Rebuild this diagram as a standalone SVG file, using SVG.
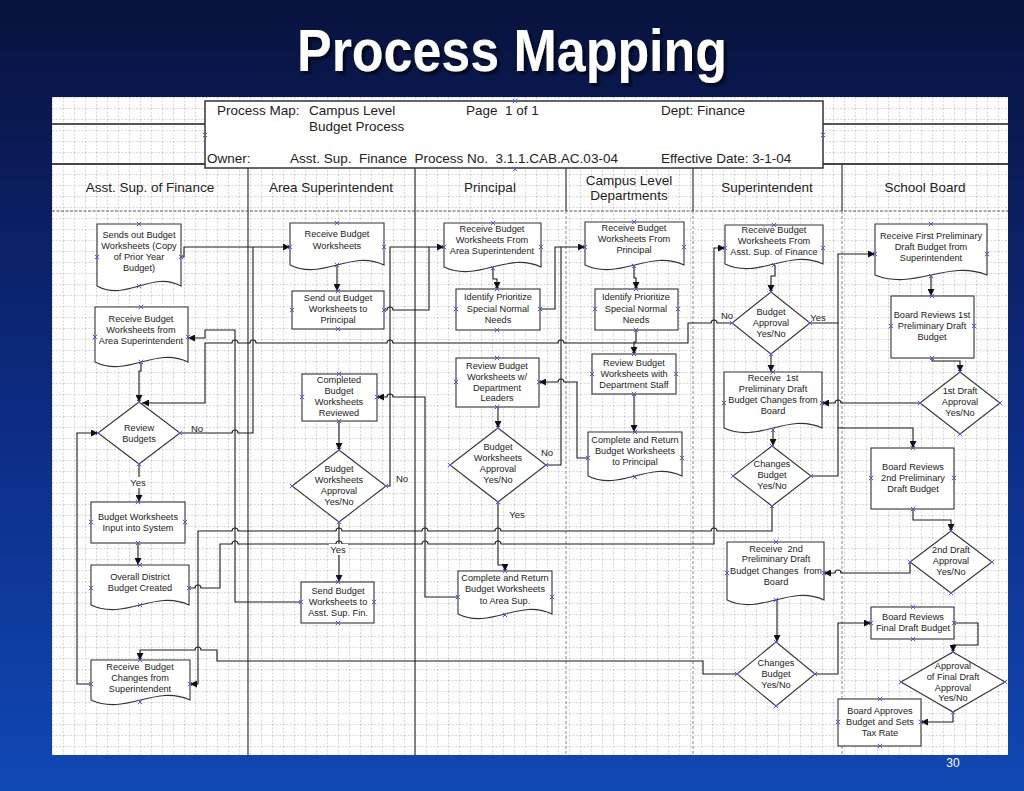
<svg xmlns="http://www.w3.org/2000/svg" xmlns:xlink="http://www.w3.org/1999/xlink" width="1024" height="791" viewBox="0 0 1024 791">
<defs>
<linearGradient id="bg" x1="0" y1="0" x2="0" y2="1">
<stop offset="0" stop-color="#08123c"/>
<stop offset="0.5" stop-color="#0c2a80"/>
<stop offset="1" stop-color="#1048b4"/>
</linearGradient>
<filter id="sh" x="-10%" y="-30%" width="120%" height="160%">
<feGaussianBlur in="SourceAlpha" stdDeviation="1.2"/>
<feOffset dx="3" dy="3" result="o"/>
<feComponentTransfer><feFuncA type="linear" slope="0.6"/></feComponentTransfer>
<feMerge><feMergeNode/><feMergeNode in="SourceGraphic"/></feMerge>
</filter>
<pattern id="grid" width="11" height="11" patternUnits="userSpaceOnUse" x="52" y="97">
<path d="M0,0.5 H11 M0.5,0 V11" fill="none" stroke="#c9c9c9" stroke-width="0.7" stroke-dasharray="2,1.5"/>
</pattern>
<marker id="ar" viewBox="0 0 8 8" refX="8" refY="4" markerWidth="7" markerHeight="7" markerUnits="userSpaceOnUse" orient="auto">
<path d="M0,0 L8,4 L0,8 Z" fill="#111"/>
</marker>
<g id="xm"><path d="M-2.2,-2.2 L2.2,2.2 M-2.2,2.2 L2.2,-2.2" stroke="#5656d6" stroke-width="1" fill="none"/></g>
</defs>
<style>
.nd{fill:#ffffff;stroke:#333;stroke-width:1.1}
.t{font-family:"Liberation Sans",Arial,sans-serif;font-size:9.2px;fill:#222;text-anchor:middle}
.h{font-family:"Liberation Sans",Arial,sans-serif;font-size:13.5px;fill:#222}
.hc{font-family:"Liberation Sans",Arial,sans-serif;font-size:13.5px;fill:#222;text-anchor:middle}
.c{fill:none;stroke:#1a1a1a;stroke-width:1.1}
.ca{fill:none;stroke:#1a1a1a;stroke-width:1.1;marker-end:url(#ar)}
.lb{font-family:"Liberation Sans",Arial,sans-serif;font-size:9.5px;fill:#222;text-anchor:middle}
.ln{stroke:#444;stroke-width:1.3}
.lnd{stroke:#888;stroke-width:1;stroke-dasharray:3,2}
</style>
<rect width="1024" height="791" fill="url(#bg)"/>
<text x="512" y="71" font-family="Liberation Sans,Arial,sans-serif" font-weight="bold" font-size="59" fill="#ffffff" text-anchor="middle" textLength="430" lengthAdjust="spacingAndGlyphs" filter="url(#sh)">Process Mapping</text>
<rect x="52" y="97" width="956" height="658" fill="#ffffff"/>
<rect x="52" y="97" width="956" height="658" fill="url(#grid)"/>
<g id="frame">
<line x1="52" y1="124" x2="205" y2="124" stroke="#555" stroke-width="2"/>
<line x1="823" y1="124" x2="1008" y2="124" stroke="#555" stroke-width="2"/>
<line x1="52" y1="164" x2="205" y2="164" stroke="#444" stroke-width="2"/>
<line x1="823" y1="164" x2="1008" y2="164" stroke="#444" stroke-width="2"/>
<line x1="52" y1="211" x2="1008" y2="211" stroke="#555" stroke-width="1.2" stroke-dasharray="3,1.5"/>
<line class="ln" x1="248" y1="164" x2="248" y2="755"/>
<line class="ln" x1="415" y1="168" x2="415" y2="755"/>
<line class="ln" x1="566" y1="168" x2="566" y2="211"/>
<line class="ln" x1="693" y1="168" x2="693" y2="211"/>
<line class="ln" x1="842" y1="164" x2="842" y2="211"/>
<line class="lnd" x1="566" y1="211" x2="566" y2="755"/>
<line class="lnd" x1="693" y1="211" x2="693" y2="755"/>
<line class="lnd" x1="842" y1="211" x2="842" y2="755"/>
</g>
<g id="header">
<rect x="205" y="101" width="618" height="67" fill="#fff" stroke="#333" stroke-width="1.5"/>
<text class="h" x="217" y="115">Process Map:</text>
<text class="h" x="309" y="115">Campus Level</text>
<text class="h" x="309" y="131">Budget Process</text>
<text class="h" x="466" y="115" xml:space="preserve">Page  1 of 1</text>
<text class="h" x="661" y="115">Dept: Finance</text>
<text class="h" x="207" y="163">Owner:</text>
<text class="h" x="290" y="163" xml:space="preserve">Asst. Sup.  Finance  Process No.  3.1.1.CAB.AC.03-04</text>
<text class="h" x="661" y="163">Effective Date: 3-1-04</text>
<use href="#xm" x="205" y="135"/><use href="#xm" x="823" y="135"/><use href="#xm" x="515" y="101"/><use href="#xm" x="515" y="169"/>
</g>
<g id="lanes">
<text class="hc" x="150" y="192">Asst. Sup. of Finance</text>
<text class="hc" x="331" y="192">Area Superintendent</text>
<text class="hc" x="490" y="192">Principal</text>
<text class="hc" x="629" y="185">Campus Level</text>
<text class="hc" x="629" y="200">Departments</text>
<text class="hc" x="767" y="192">Superintendent</text>
<text class="hc" x="925" y="192">School Board</text>
</g>
<g id="connectors">
<path class="ca" d="M181,257 H184 V247 H290"/>
<path class="c" d="M180,433 H232 a3,3 0 0 1 6,0 H253 V247"/>
<path class="ca" d="M301,602 H235 V330 H205 V338 H188"/>
<path class="ca" d="M732,323 H717 a3,3 0 0 0 -6,0 H688 V343 H564 a3,3 0 0 0 -6,0 H393 a3,3 0 0 0 -6,0 H256 a3,3 0 0 0 -6,0 H238 a3,3 0 0 0 -6,0 H205 V403 H142"/>
<path class="ca" d="M141,362 V371 H139 V402"/>
<path class="ca" d="M139,464 V502"/>
<path class="ca" d="M138,543 V565"/>
<path class="ca" d="M189,588 H195 a3,3 0 0 1 6,0 H220 V544 H232 a3,3 0 0 1 6,0 H336 a3,3 0 0 1 6,0 H422 a3,3 0 0 1 6,0 H495 a3,3 0 0 1 6,0 H714 V248 H725"/>
<path class="ca" d="M772,506 V531 H717 a3,3 0 0 0 -6,0 H501 a3,3 0 0 0 -6,0 H428 a3,3 0 0 0 -6,0 H342 a3,3 0 0 0 -6,0 H238 a3,3 0 0 0 -6,0 H198 V684 H190"/>
<path class="ca" d="M737,674 H703 V661 H217 V650 H201 a3,3 0 0 0 -6,0 H140 V660"/>
<path class="ca" d="M91,684 H77 V433 H98"/>
<path class="ca" d="M337,265 V291"/>
<path class="ca" d="M384,310 H387 a3,3 0 0 1 6,0 H429 V247 H444"/>
<path class="c" d="M386,486 H390 V247 H429"/>
<path class="ca" d="M339,421 V450"/>
<path class="ca" d="M339,522 V582"/>
<path class="ca" d="M458,597 H425 V397 H393 a3,3 0 0 0 -6,0 H377"/>
<path class="ca" d="M493,268 V279 H497 V289"/>
<path class="ca" d="M540,309 H555 V247 H585"/>
<path class="c" d="M546,465 H561 V247"/>
<path class="ca" d="M498,407 V428"/>
<path class="ca" d="M498,502 V565 H505 V571"/>
<path class="ca" d="M634,266 V278 H636 V289"/>
<path class="ca" d="M636,330 V342 H634 V354"/>
<path class="ca" d="M634,394 V432"/>
<path class="ca" d="M588,458 H577 V382 H564 a3,3 0 0 0 -6,0 H539"/>
<path class="ca" d="M775,265 V276 H771 V292"/>
<path class="ca" d="M810,323 H838 V254 H875"/>
<path class="ca" d="M771,354 V372"/>
<path class="ca" d="M920,403 H841 a3,3 0 0 0 -6,0 H822"/>
<path class="ca" d="M773,430 V446"/>
<path class="ca" d="M811,476 H838 V428 H913 V448"/>
<path class="c" d="M838,323 V428"/>
<path class="ca" d="M931,276 V296"/>
<path class="ca" d="M932,358 V361 H960 V372"/>
<path class="ca" d="M913,509 V520 H951 V531"/>
<path class="ca" d="M910,562 V573 H841 a3,3 0 0 0 -6,0 H824"/>
<path class="ca" d="M777,600 V642"/>
<path class="ca" d="M815,674 H838 V623 H871"/>
<path class="ca" d="M954,623 H978 V645 H953 V652"/>
<path class="ca" d="M953,712 V722 H921"/>
<text class="lb" x="197" y="432">No</text>
<rect x="128" y="477" width="19" height="11" fill="#fff"/>
<text class="lb" x="138" y="486">Yes</text>
<text class="lb" x="402" y="482">No</text>
<rect x="329" y="544" width="19" height="11" fill="#fff"/>
<text class="lb" x="338" y="553">Yes</text>
<text class="lb" x="547" y="456">No</text>
<text class="lb" x="517" y="518">Yes</text>
<text class="lb" x="727" y="319">No</text>
<text class="lb" x="818" y="321">Yes</text>
</g>
<g id="n1"><path class="nd" d="M97,224 H181 V286 C151.6,270 126.4,302 97,286 Z"/><text class="t"><tspan x="139" y="238">Sends out Budget</tspan><tspan x="139" y="249">Worksheets (Copy</tspan><tspan x="139" y="260">of Prior Year</tspan><tspan x="139" y="271">Budget)</tspan></text><use href="#xm" x="139" y="224"/><use href="#xm" x="139" y="286"/><use href="#xm" x="97" y="257"/><use href="#xm" x="181" y="257"/></g>
<g id="n2"><path class="nd" d="M95,307 H188 V362 C155.4,346 127.6,378 95,362 Z"/><text class="t"><tspan x="141" y="322">Receive Budget</tspan><tspan x="141" y="333">Worksheets from</tspan><tspan x="141" y="344">Area Superintendent</tspan></text><use href="#xm" x="141" y="307"/><use href="#xm" x="141" y="362"/><use href="#xm" x="95" y="337"/><use href="#xm" x="188" y="337"/></g>
<g id="n3"><path class="nd" d="M139,402 L180,433 L139,464 L98,433 Z"/><text class="t"><tspan x="139" y="431">Review</tspan><tspan x="139" y="442">Budgets</tspan></text><use href="#xm" x="139" y="402"/><use href="#xm" x="139" y="464"/><use href="#xm" x="98" y="433"/><use href="#xm" x="180" y="433"/></g>
<g id="n4"><rect class="nd" x="91" y="502" width="94" height="41"/><text class="t"><tspan x="138" y="520">Budget Worksheets</tspan><tspan x="138" y="531">Input into System</tspan></text><use href="#xm" x="138" y="502"/><use href="#xm" x="138" y="543"/><use href="#xm" x="91" y="522"/><use href="#xm" x="185" y="522"/></g>
<g id="n5"><path class="nd" d="M91,565 H189 V605 C154.7,589 125.3,621 91,605 Z"/><text class="t"><tspan x="140" y="580">Overall District</tspan><tspan x="140" y="591">Budget Created</tspan></text><use href="#xm" x="140" y="565"/><use href="#xm" x="140" y="605"/><use href="#xm" x="91" y="588"/><use href="#xm" x="189" y="588"/></g>
<g id="n6"><path class="nd" d="M91,660 H190 V700 C155.3,684 125.7,716 91,700 Z"/><text class="t" xml:space="preserve"><tspan x="140" y="670">Receive  Budget</tspan><tspan x="140" y="681">Changes from</tspan><tspan x="140" y="692">Superintendent</tspan></text><use href="#xm" x="140" y="660"/><use href="#xm" x="140" y="702"/><use href="#xm" x="91" y="684"/><use href="#xm" x="190" y="684"/></g>
<g id="n7"><path class="nd" d="M290,223 H384 V265 C351.1,249 322.9,281 290,265 Z"/><text class="t"><tspan x="337" y="237">Receive Budget</tspan><tspan x="337" y="249">Worksheets</tspan></text><use href="#xm" x="337" y="223"/><use href="#xm" x="337" y="265"/><use href="#xm" x="290" y="247"/><use href="#xm" x="384" y="247"/></g>
<g id="n8"><rect class="nd" x="292" y="291" width="92" height="38"/><text class="t"><tspan x="338" y="301">Send out Budget</tspan><tspan x="338" y="312">Worksheets to</tspan><tspan x="338" y="323">Principal</tspan></text><use href="#xm" x="338" y="291"/><use href="#xm" x="338" y="329"/><use href="#xm" x="292" y="310"/><use href="#xm" x="384" y="310"/></g>
<g id="n9"><rect class="nd" x="302" y="374" width="75" height="47"/><text class="t"><tspan x="339" y="383">Completed</tspan><tspan x="339" y="394">Budget</tspan><tspan x="339" y="405">Worksheets</tspan><tspan x="339" y="416">Reviewed</tspan></text><use href="#xm" x="339" y="374"/><use href="#xm" x="339" y="421"/><use href="#xm" x="302" y="397"/><use href="#xm" x="377" y="397"/></g>
<g id="n10"><path class="nd" d="M339,450 L386,486 L339,522 L292,486 Z"/><text class="t"><tspan x="339" y="472">Budget</tspan><tspan x="339" y="483">Worksheets</tspan><tspan x="339" y="494">Approval</tspan><tspan x="339" y="505">Yes/No</tspan></text><use href="#xm" x="339" y="450"/><use href="#xm" x="339" y="522"/><use href="#xm" x="292" y="486"/><use href="#xm" x="386" y="486"/></g>
<g id="n11"><rect class="nd" x="301" y="582" width="73" height="41"/><text class="t"><tspan x="338" y="594">Send Budget</tspan><tspan x="338" y="605">Worksheets to</tspan><tspan x="338" y="616">Asst. Sup. Fin.</tspan></text><use href="#xm" x="338" y="582"/><use href="#xm" x="338" y="623"/><use href="#xm" x="301" y="602"/><use href="#xm" x="374" y="602"/></g>
<g id="n12"><path class="nd" d="M444,223 H541 V267 C507,251 478,283 444,267 Z"/><text class="t"><tspan x="492" y="232">Receive Budget</tspan><tspan x="492" y="243">Worksheets From</tspan><tspan x="492" y="254">Area Superintendent</tspan></text><use href="#xm" x="493" y="223"/><use href="#xm" x="493" y="268"/><use href="#xm" x="444" y="247"/><use href="#xm" x="541" y="247"/></g>
<g id="n13"><rect class="nd" x="456" y="289" width="84" height="41"/><text class="t"><tspan x="498" y="300">Identify Prioritize</tspan><tspan x="498" y="312">Special Normal</tspan><tspan x="498" y="323">Needs</tspan></text><use href="#xm" x="497" y="289"/><use href="#xm" x="497" y="330"/><use href="#xm" x="456" y="309"/><use href="#xm" x="540" y="309"/></g>
<g id="n14"><rect class="nd" x="456" y="358" width="83" height="49"/><text class="t"><tspan x="497" y="369">Review Budget</tspan><tspan x="497" y="380">Worksheets w/</tspan><tspan x="497" y="391">Department</tspan><tspan x="497" y="401">Leaders</tspan></text><use href="#xm" x="497" y="358"/><use href="#xm" x="497" y="407"/><use href="#xm" x="456" y="382"/><use href="#xm" x="539" y="382"/></g>
<g id="n15"><path class="nd" d="M498,428 L546,465 L498,502 L450,465 Z"/><text class="t"><tspan x="498" y="450">Budget</tspan><tspan x="498" y="461">Worksheets</tspan><tspan x="498" y="472">Approval</tspan><tspan x="498" y="483">Yes/No</tspan></text><use href="#xm" x="498" y="428"/><use href="#xm" x="498" y="502"/><use href="#xm" x="450" y="465"/><use href="#xm" x="546" y="465"/></g>
<g id="n16"><path class="nd" d="M458,571 H552 V614 C519.1,598 490.9,630 458,614 Z"/><text class="t"><tspan x="505" y="581">Complete and Return</tspan><tspan x="505" y="592">Budget Worksheets</tspan><tspan x="505" y="604">to Area Sup.</tspan></text><use href="#xm" x="505" y="571"/><use href="#xm" x="505" y="615"/><use href="#xm" x="458" y="597"/><use href="#xm" x="552" y="597"/></g>
<g id="n17"><path class="nd" d="M585,222 H684 V265 C649.3,249 619.7,281 585,265 Z"/><text class="t"><tspan x="634" y="231">Receive Budget</tspan><tspan x="634" y="242">Worksheets From</tspan><tspan x="634" y="253">Principal</tspan></text><use href="#xm" x="634" y="222"/><use href="#xm" x="634" y="266"/><use href="#xm" x="585" y="247"/><use href="#xm" x="684" y="247"/></g>
<g id="n18"><rect class="nd" x="595" y="289" width="83" height="41"/><text class="t"><tspan x="636" y="300">Identify Prioritize</tspan><tspan x="636" y="312">Special Normal</tspan><tspan x="636" y="323">Needs</tspan></text><use href="#xm" x="636" y="289"/><use href="#xm" x="636" y="330"/><use href="#xm" x="595" y="309"/><use href="#xm" x="678" y="309"/></g>
<g id="n19"><rect class="nd" x="592" y="354" width="84" height="40"/><text class="t"><tspan x="634" y="366">Review Budget</tspan><tspan x="634" y="377">Worksheets with</tspan><tspan x="634" y="388">Department Staff</tspan></text><use href="#xm" x="634" y="354"/><use href="#xm" x="634" y="394"/><use href="#xm" x="592" y="374"/><use href="#xm" x="676" y="374"/></g>
<g id="n20"><path class="nd" d="M588,432 H682 V476 C649.1,460 620.9,492 588,476 Z"/><text class="t"><tspan x="635" y="443">Complete and Return</tspan><tspan x="635" y="454">Budget Worksheets</tspan><tspan x="635" y="465">to Principal</tspan></text><use href="#xm" x="635" y="432"/><use href="#xm" x="635" y="477"/><use href="#xm" x="588" y="458"/><use href="#xm" x="682" y="458"/></g>
<g id="n21"><path class="nd" d="M725,225 H823 V264 C788.7,248 759.3,280 725,264 Z"/><text class="t"><tspan x="774" y="233">Receive Budget</tspan><tspan x="774" y="244">Worksheets From</tspan><tspan x="774" y="255">Asst. Sup. of Finance</tspan></text><use href="#xm" x="774" y="225"/><use href="#xm" x="774" y="265"/><use href="#xm" x="725" y="248"/><use href="#xm" x="823" y="248"/></g>
<g id="n22"><path class="nd" d="M771,292 L810,323 L771,354 L732,323 Z"/><text class="t"><tspan x="771" y="315">Budget</tspan><tspan x="771" y="326">Approval</tspan><tspan x="771" y="337">Yes/No</tspan></text><use href="#xm" x="771" y="292"/><use href="#xm" x="771" y="354"/><use href="#xm" x="732" y="323"/><use href="#xm" x="810" y="323"/></g>
<g id="n23"><path class="nd" d="M724,372 H822 V428 C787.7,412 758.3,444 724,428 Z"/><text class="t" xml:space="preserve"><tspan x="773" y="381">Receive  1st</tspan><tspan x="773" y="392">Preliminary Draft</tspan><tspan x="773" y="403">Budget Changes from</tspan><tspan x="773" y="414">Board</tspan></text><use href="#xm" x="773" y="372"/><use href="#xm" x="773" y="430"/><use href="#xm" x="724" y="403"/><use href="#xm" x="822" y="403"/></g>
<g id="n24"><path class="nd" d="M772,446 L811,476 L772,506 L733,476 Z"/><text class="t"><tspan x="772" y="467">Changes</tspan><tspan x="772" y="478">Budget</tspan><tspan x="772" y="489">Yes/No</tspan></text><use href="#xm" x="772" y="446"/><use href="#xm" x="772" y="506"/><use href="#xm" x="733" y="476"/><use href="#xm" x="811" y="476"/></g>
<g id="n25"><path class="nd" d="M727,542 H824 V600 C790,584 761,616 727,600 Z"/><text class="t" xml:space="preserve"><tspan x="776" y="552">Receive  2nd</tspan><tspan x="776" y="562">Preliminary Draft</tspan><tspan x="776" y="574">Budget Changes  from</tspan><tspan x="776" y="585">Board</tspan></text><use href="#xm" x="776" y="542"/><use href="#xm" x="776" y="600"/><use href="#xm" x="727" y="573"/><use href="#xm" x="824" y="573"/></g>
<g id="n26"><path class="nd" d="M776,642 L815,674 L776,706 L737,674 Z"/><text class="t"><tspan x="776" y="666">Changes</tspan><tspan x="776" y="677">Budget</tspan><tspan x="776" y="688">Yes/No</tspan></text><use href="#xm" x="776" y="642"/><use href="#xm" x="776" y="706"/><use href="#xm" x="737" y="674"/><use href="#xm" x="815" y="674"/></g>
<g id="n27"><path class="nd" d="M875,224 H987 V275 C947.8,259 914.2,291 875,275 Z"/><text class="t"><tspan x="931" y="239">Receive First Preliminary</tspan><tspan x="931" y="250">Draft Budget from</tspan><tspan x="931" y="261">Superintendent</tspan></text><use href="#xm" x="931" y="224"/><use href="#xm" x="931" y="276"/><use href="#xm" x="875" y="254"/><use href="#xm" x="987" y="254"/></g>
<g id="n28"><rect class="nd" x="891" y="296" width="83" height="62"/><text class="t"><tspan x="932" y="318">Board Reviews 1st</tspan><tspan x="932" y="329">Preliminary Draft</tspan><tspan x="932" y="340">Budget</tspan></text><use href="#xm" x="932" y="296"/><use href="#xm" x="932" y="358"/><use href="#xm" x="891" y="326"/><use href="#xm" x="974" y="326"/></g>
<g id="n29"><path class="nd" d="M960,372 L1000,403 L960,434 L920,403 Z"/><text class="t"><tspan x="960" y="394">1st Draft</tspan><tspan x="960" y="405">Approval</tspan><tspan x="960" y="416">Yes/No</tspan></text><use href="#xm" x="960" y="372"/><use href="#xm" x="960" y="434"/><use href="#xm" x="920" y="403"/><use href="#xm" x="1000" y="403"/></g>
<g id="n30"><rect class="nd" x="871" y="448" width="83" height="61"/><text class="t"><tspan x="913" y="470">Board Reviews</tspan><tspan x="913" y="481">2nd Preliminary</tspan><tspan x="913" y="492">Draft Budget</tspan></text><use href="#xm" x="913" y="448"/><use href="#xm" x="913" y="509"/><use href="#xm" x="871" y="478"/><use href="#xm" x="954" y="478"/></g>
<g id="n31"><path class="nd" d="M951,531 L992,562 L951,593 L910,562 Z"/><text class="t"><tspan x="951" y="553">2nd Draft</tspan><tspan x="951" y="564">Approval</tspan><tspan x="951" y="575">Yes/No</tspan></text><use href="#xm" x="951" y="531"/><use href="#xm" x="951" y="593"/><use href="#xm" x="910" y="562"/><use href="#xm" x="992" y="562"/></g>
<g id="n32"><rect class="nd" x="871" y="607" width="83" height="32"/><text class="t"><tspan x="913" y="620">Board Reviews</tspan><tspan x="913" y="631">Final Draft Budget</tspan></text><use href="#xm" x="913" y="607"/><use href="#xm" x="913" y="639"/><use href="#xm" x="871" y="623"/><use href="#xm" x="954" y="623"/></g>
<g id="n33"><path class="nd" d="M953,652 L1005,682 L953,712 L901,682 Z"/><text class="t"><tspan x="953" y="669">Approval</tspan><tspan x="953" y="680">of Final Draft</tspan><tspan x="953" y="691">Approval</tspan><tspan x="953" y="701">Yes/No</tspan></text><use href="#xm" x="953" y="652"/><use href="#xm" x="953" y="712"/><use href="#xm" x="901" y="682"/><use href="#xm" x="1005" y="682"/></g>
<g id="n34"><rect class="nd" x="838" y="699" width="83" height="47"/><text class="t"><tspan x="880" y="714">Board Approves</tspan><tspan x="880" y="725">Budget and Sets</tspan><tspan x="880" y="736">Tax Rate</tspan></text><use href="#xm" x="880" y="699"/><use href="#xm" x="880" y="746"/><use href="#xm" x="838" y="722"/><use href="#xm" x="921" y="722"/></g>
<text x="953" y="767" font-family="Liberation Sans,Arial,sans-serif" font-size="12" fill="#ffffff" text-anchor="middle">30</text>
</svg>
